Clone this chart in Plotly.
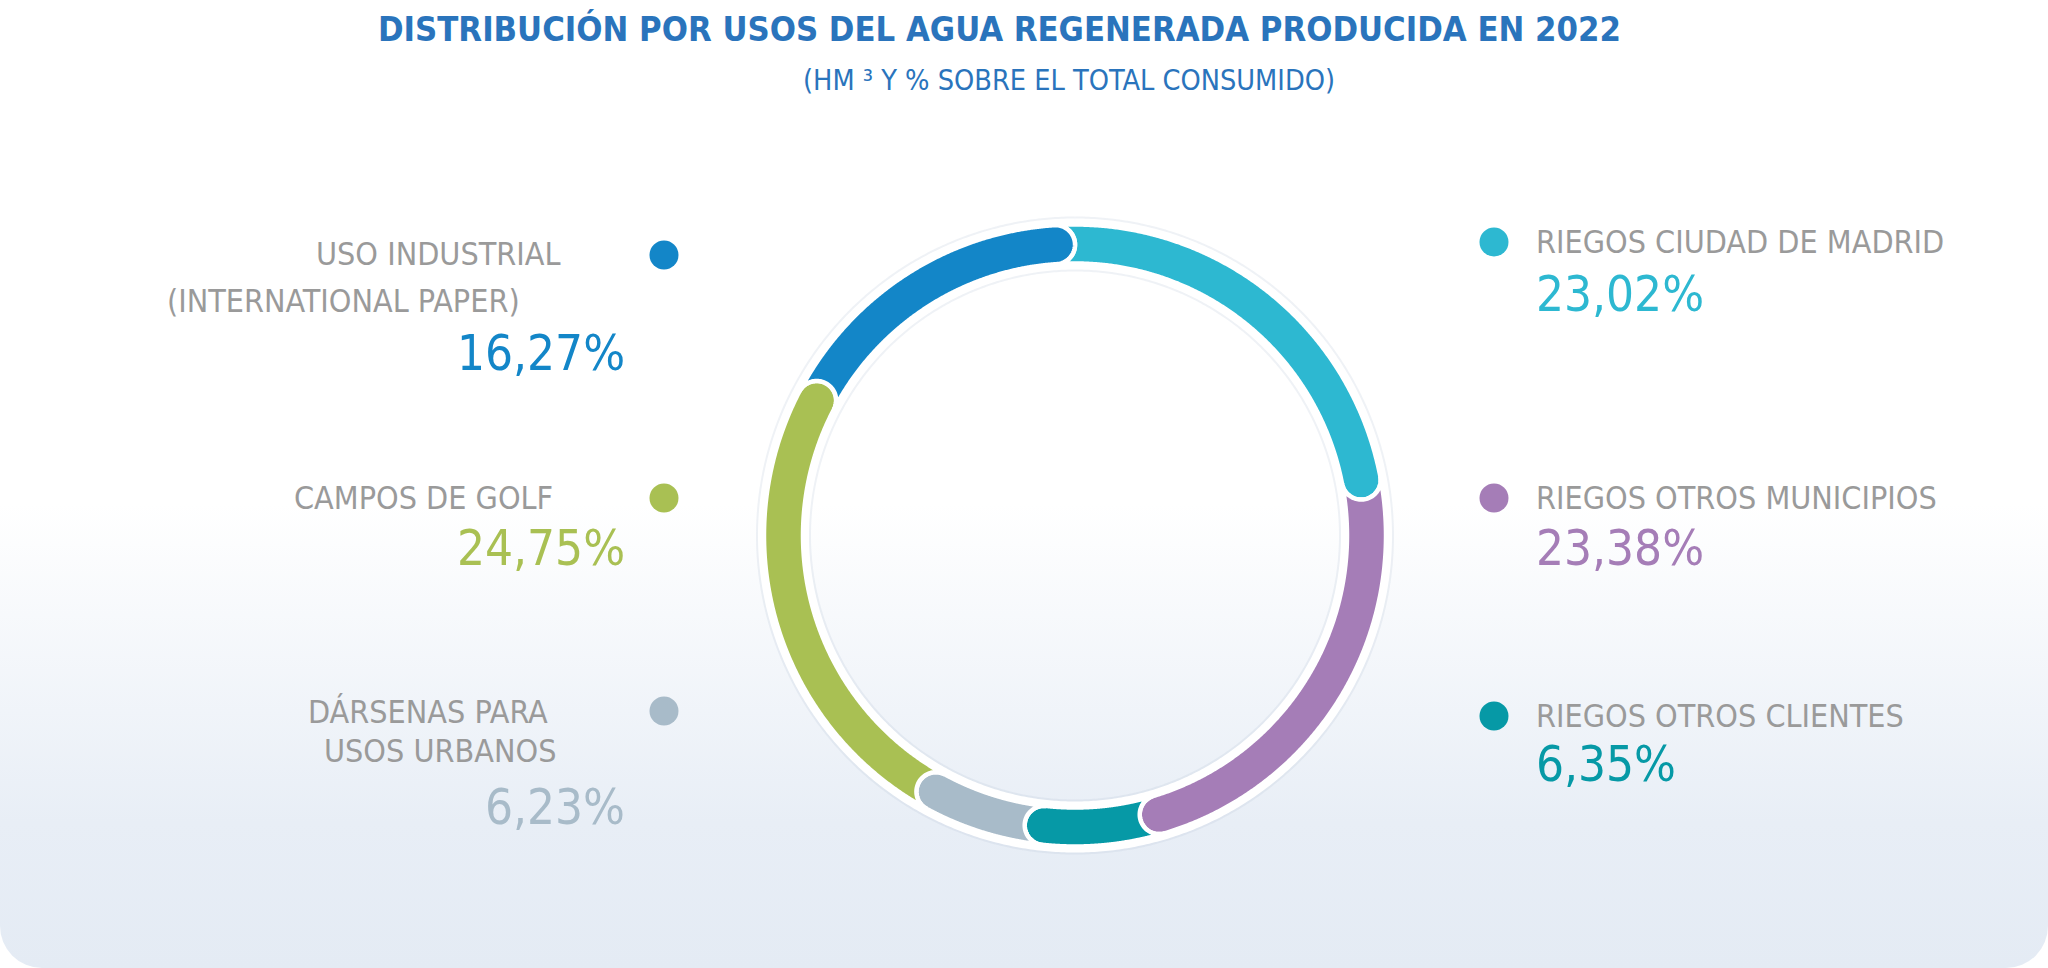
import base64
import numpy as np
import plotly.graph_objects as go

# ---------------- data ----------------
categories = [
    "RIEGOS CIUDAD DE MADRID",
    "RIEGOS OTROS MUNICIPIOS",
    "RIEGOS OTROS CLIENTES",
    "DÁRSENAS PARA USOS URBANOS",
    "CAMPOS DE GOLF",
    "USO INDUSTRIAL (INTERNATIONAL PAPER)",
]
values = [23.02, 23.38, 6.35, 6.23, 24.75, 16.27]
label_lines = [
    ["RIEGOS CIUDAD DE MADRID"],
    ["RIEGOS OTROS MUNICIPIOS"],
    ["RIEGOS OTROS CLIENTES"],
    ["DÁRSENAS PARA", "USOS URBANOS"],
    ["CAMPOS DE GOLF"],
    ["USO INDUSTRIAL", "(INTERNATIONAL PAPER)"],
]
colors = ["#2db8d1", "#a57db7", "#0699a6", "#a8bbc9", "#a9c053", "#1386c8"]

title_text = "DISTRIBUCIÓN POR USOS DEL AGUA REGENERADA PRODUCIDA EN 2022"
subtitle_text = "(HM&nbsp;³&nbsp;Y % SOBRE EL TOTAL CONSUMIDO)"

# ---------------- layout constants ----------------
W, H = 2048, 968
CX, CY = 1075, 535.5
R_OUT, R_IN = 311, 272
RM = (R_OUT + R_IN) / 2
HT = (R_OUT - R_IN) / 2

LABEL_FONT = "DejaVu Sans Condensed, DejaVu Sans, sans-serif"
TITLE_FONT = "DejaVu Sans Condensed, DejaVu Sans, sans-serif"
GREY = "#9a9a9a"
BLUE_T = "#2a74bc"

# legend placement (pixel positions)
legend_pos = [
    dict(side="r", dot=(1494, 242), lines=[(1534, 242)], pct=(1534, 294)),
    dict(side="r", dot=(1494, 498), lines=[(1534, 498)], pct=(1534, 548)),
    dict(side="r", dot=(1494, 716), lines=[(1534, 716)], pct=(1534, 764)),
    dict(side="l", dot=(664, 711), lines=[(550, 712), (558, 751)], pct=(627, 807)),
    dict(side="l", dot=(664, 498), lines=[(555, 498)], pct=(627, 548)),
    dict(side="l", dot=(664, 255), lines=[(562, 254), (522, 301)], pct=(627, 353)),
]


def pt(r, a):
    return CX + r * np.sin(a), CY - r * np.cos(a)


def cap(a, phis):
    cx_, cy_ = pt(RM, a)
    ux, uy = np.sin(a), -np.cos(a)
    tx, ty = np.cos(a), np.sin(a)
    return (cx_ + HT * (ux * np.cos(phis) + tx * np.sin(phis)),
            cy_ + HT * (uy * np.cos(phis) + ty * np.sin(phis)))


def segment(a0, a1):
    d = HT / RM
    xs, ys = [], []
    A = np.linspace(a0 - d, a1 - d, 300)
    x, y = pt(R_OUT, A); xs += list(x); ys += list(y)
    x, y = cap(a1 - d, np.linspace(0, np.pi, 60)); xs += list(x); ys += list(y)
    A = np.linspace(a1 - d, a0 - d, 300)
    x, y = pt(R_IN, A); xs += list(x); ys += list(y)
    x, y = cap(a0 - d, np.linspace(np.pi, 0, 60)); xs += list(x); ys += list(y)
    xs.append(xs[0]); ys.append(ys[0])
    return xs, ys


fig = go.Figure()

# white halo ring behind the segments
circ = np.linspace(0, 2 * np.pi, 721)
hx, hy = pt(RM, circ)
fig.add_trace(go.Scatter(x=hx, y=hy, mode="lines",
                         line=dict(color="rgba(180,195,212,0.22)", width=R_OUT - R_IN + 16,
                                   simplify=False),
                         hoverinfo="skip", showlegend=False))
fig.add_trace(go.Scatter(x=hx, y=hy, mode="lines",
                         line=dict(color="white", width=R_OUT - R_IN + 12, simplify=False),
                         hoverinfo="skip", showlegend=False))

total = sum(values)
cum = 0.0
for cat, v, c in zip(categories, values, colors):
    a0 = 2 * np.pi * cum / total
    a1 = 2 * np.pi * (cum + v) / total
    cum += v
    xs, ys = segment(a0, a1)
    fig.add_trace(go.Scatter(x=xs, y=ys, mode="lines", fill="toself",
                             fillcolor=c, line=dict(color="white", width=4.5, simplify=False),
                             name=cat, hoverinfo="name", showlegend=False))

annotations = []
dot_x, dot_y = [], []
for i, (lines, v, c, p) in enumerate(zip(label_lines, values, colors, legend_pos)):
    dot_x.append(p["dot"][0]); dot_y.append(p["dot"][1])
    anchor = "left" if p["side"] == "r" else "right"
    for txt, (lx, ly) in zip(lines, p["lines"]):
        annotations.append(dict(x=lx, y=ly, xref="x", yref="y", text=txt, showarrow=False,
                                xanchor=anchor, yanchor="middle",
                                font=dict(family=LABEL_FONT, size=32, color=GREY)))
    pct = f"{v:.2f}".replace(".", ",") + "%"
    annotations.append(dict(x=p["pct"][0], y=p["pct"][1], xref="x", yref="y", text=pct,
                            showarrow=False, xanchor=anchor, yanchor="middle",
                            font=dict(family=LABEL_FONT, size=49, color=c)))

fig.add_trace(go.Scatter(x=dot_x, y=dot_y, mode="markers",
                         marker=dict(size=29, color=colors, line=dict(width=0)),
                         hoverinfo="skip", showlegend=False))

annotations.append(dict(x=999, y=29, xref="x", yref="y", text=f"<b>{title_text}</b>",
                        showarrow=False, xanchor="center", yanchor="middle",
                        font=dict(family=TITLE_FONT, size=34.3, color=BLUE_T)))
annotations.append(dict(x=1069, y=80, xref="x", yref="y", text=subtitle_text,
                        showarrow=False, xanchor="center", yanchor="middle",
                        font=dict(family=LABEL_FONT, size=28.6, color=BLUE_T)))

svg = (
    '<svg xmlns="http://www.w3.org/2000/svg" width="2048" height="968" viewBox="0 0 2048 968" '
    'preserveAspectRatio="none"><defs><linearGradient id="g" x1="0" y1="0" x2="0" y2="1">'
    '<stop offset="0" stop-color="#ffffff"/><stop offset="0.52" stop-color="#ffffff"/>'
    '<stop offset="0.85" stop-color="#e8eef6"/><stop offset="1" stop-color="#e4ebf4"/>'
    '</linearGradient></defs><rect x="0" y="0" width="2048" height="968" rx="42" ry="42" '
    'fill="url(#g)"/></svg>'
)
src = "data:image/svg+xml;base64," + base64.b64encode(svg.encode()).decode()

fig.update_layout(
    width=W, height=H, autosize=False,
    margin=dict(l=0, r=0, t=0, b=0, pad=0),
    paper_bgcolor="white", plot_bgcolor="rgba(0,0,0,0)",
    xaxis=dict(range=[0, W], visible=False, fixedrange=True),
    yaxis=dict(range=[H, 0], visible=False, fixedrange=True),
    annotations=annotations,
    images=[dict(source=src, xref="paper", yref="paper", x=0, y=1, sizex=1, sizey=1,
                 xanchor="left", yanchor="top", sizing="stretch", layer="below")],
    showlegend=False,
)

fig.write_html("out.html", config={"displayModeBar": False})
